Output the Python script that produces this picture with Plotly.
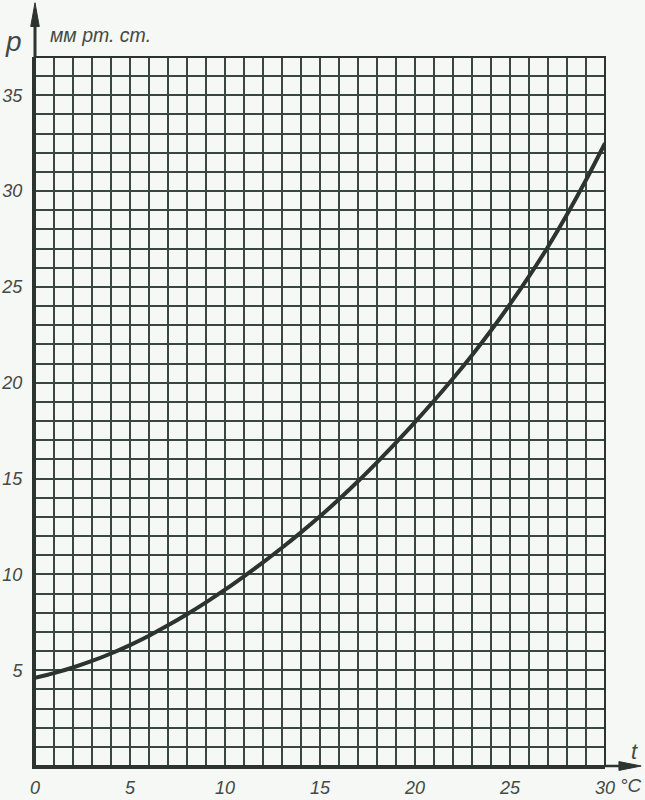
import plotly.graph_objects as go

# Data: saturated water vapour pressure (mm Hg) vs temperature (°C)
t_values = list(range(0, 31))
p_values = [4.6, 4.85, 5.14, 5.48, 5.87, 6.31, 6.80, 7.34, 7.92, 8.54,
            9.20, 9.90, 10.63, 11.39, 12.19, 13.03, 13.92, 14.86, 15.85, 16.88,
            17.95, 19.06, 20.22, 21.44, 22.73, 24.10, 25.55, 27.10, 28.78, 30.58, 32.5]

x_grid = list(range(0, 31))
y_grid = list(range(0, 38))
x_labels = [str(v) if v % 5 == 0 else "" for v in x_grid]
y_labels = [str(v) if (v % 5 == 0 and v > 0) else "" for v in y_grid]

BG = "#f5f8f4"
GRID = "#3a473f"
INK = "#2c342f"
TXT = "#444a45"
FONT = "Liberation Sans"

fig = go.Figure()
fig.add_trace(go.Scatter(
    x=t_values, y=p_values, mode="lines",
    line=dict(color=INK, width=4, shape="spline", smoothing=0.8),
    hoverinfo="skip", showlegend=False,
))

fig.update_layout(
    width=645, height=800,
    margin=dict(l=35, r=40, t=57, b=34, autoexpand=False),
    paper_bgcolor=BG, plot_bgcolor=BG,
    showlegend=False,
    xaxis=dict(
        range=[0, 30], tickmode="array", tickvals=x_grid, ticktext=x_labels,
        showgrid=True, gridcolor=GRID, gridwidth=1.7,
        showline=True, linecolor=INK, linewidth=2.5, mirror=False,
        ticks="", ticklabelstandoff=4, zeroline=False, automargin=False,
        tickfont=dict(family=FONT, size=18, color=TXT, style="italic"),
    ),
    yaxis=dict(
        range=[0, 37], tickmode="array", tickvals=y_grid, ticktext=y_labels,
        showgrid=True, gridcolor=GRID, gridwidth=1.7,
        showline=True, linecolor=INK, linewidth=3, mirror=False,
        ticks="", ticklabelstandoff=6, zeroline=False, automargin=False,
        tickfont=dict(family=FONT, size=18, color=TXT, style="italic"),
    ),
)

# frame: top and right border of the grid
fig.add_shape(type="rect", xref="paper", yref="paper", x0=0, y0=0, x1=1, y1=1,
              line=dict(color=INK, width=2), layer="above")

# axis arrows (lines + narrow filled heads)
fig.add_shape(type="line", xref="paper", yref="paper", x0=0, y0=1, x1=0, y1=1.05,
              line=dict(color=INK, width=3))
fig.add_shape(type="path", xref="paper", yref="paper",
              path="M 0,1.0765 L -0.0075,1.043 L 0.0075,1.043 Z",
              fillcolor=INK, line=dict(color=INK, width=1))
fig.add_shape(type="line", xref="paper", yref="paper", x0=1, y0=0, x1=1.03, y1=0,
              line=dict(color=INK, width=2.5))
fig.add_shape(type="path", xref="paper", yref="paper",
              path="M 1.0635,0 L 1.0245,0.0062 L 1.0245,-0.0062 Z",
              fillcolor=INK, line=dict(color=INK, width=1))

# axis labels
fig.add_annotation(x=-0.038, y=1.022, xref="paper", yref="paper",
                   xanchor="center", yanchor="middle",
                   text="<i>p</i>", showarrow=False,
                   font=dict(family=FONT, size=28, color=TXT))
fig.add_annotation(x=0.022, y=1.031, xref="paper", yref="paper",
                   xanchor="left", yanchor="middle",
                   text="<i>мм рт. ст.</i>", showarrow=False,
                   font=dict(family=FONT, size=19.5, color=TXT))
fig.add_annotation(x=1.051, y=0.021, xref="paper", yref="paper",
                   xanchor="center", yanchor="middle",
                   text="<i>t</i>", showarrow=False,
                   font=dict(family=FONT, size=22, color=TXT))
fig.add_annotation(x=1.045, y=-0.027, xref="paper", yref="paper",
                   xanchor="center", yanchor="middle",
                   text="<i>°C</i>", showarrow=False,
                   font=dict(family=FONT, size=19, color=TXT))

fig.write_html("out.html", config={"displayModeBar": False},
               post_script="document.body.style.margin='0';document.body.style.overflow='hidden';")
